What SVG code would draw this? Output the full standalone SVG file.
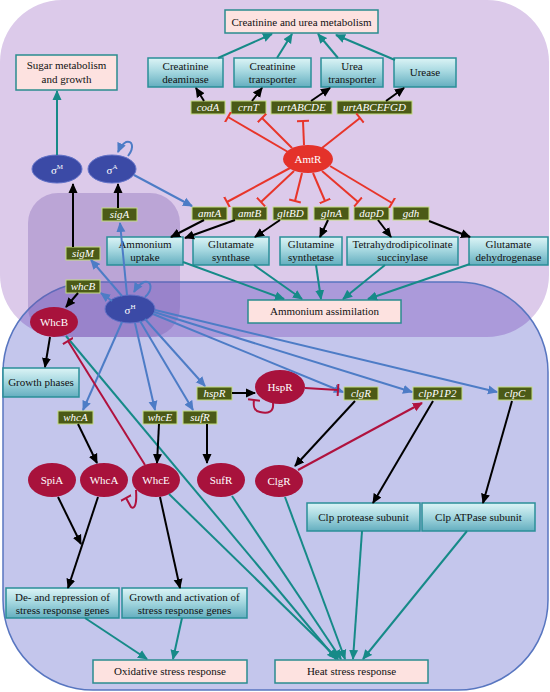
<svg xmlns="http://www.w3.org/2000/svg" width="550" height="692" viewBox="0 0 550 692">
<defs>
<linearGradient id="pg" x1="0" y1="0" x2="0" y2="1">
<stop offset="0" stop-color="#dcf4f6"/><stop offset="0.45" stop-color="#a8d9e1"/><stop offset="1" stop-color="#64aebf"/>
</linearGradient>
<clipPath id="lowClip"><rect x="3" y="282" width="545" height="408" rx="90"/></clipPath>
<marker id="ak" viewBox="0 0 10 10" refX="9" refY="5" markerWidth="10" markerHeight="10" markerUnits="userSpaceOnUse" orient="auto"><path d="M0,0.5 L10,5 L0,9.5 z" fill="#000"/></marker>
<marker id="at" viewBox="0 0 10 10" refX="9" refY="5" markerWidth="10" markerHeight="10" markerUnits="userSpaceOnUse" orient="auto"><path d="M0,0.5 L10,5 L0,9.5 z" fill="#168a88"/></marker>
<marker id="ab" viewBox="0 0 10 10" refX="9" refY="5" markerWidth="10" markerHeight="10" markerUnits="userSpaceOnUse" orient="auto"><path d="M0,0.5 L10,5 L0,9.5 z" fill="#4d7cc6"/></marker>
<marker id="ac" viewBox="0 0 10 10" refX="9" refY="5" markerWidth="10" markerHeight="10" markerUnits="userSpaceOnUse" orient="auto"><path d="M0,0.5 L10,5 L0,9.5 z" fill="#b0123e"/></marker>
<marker id="tr" viewBox="0 0 4 12" refX="2" refY="6" markerWidth="4" markerHeight="12" markerUnits="userSpaceOnUse" orient="auto"><path d="M2,0 V12" stroke="#e8352a" stroke-width="2"/></marker>
<marker id="tc" viewBox="0 0 4 12" refX="2" refY="6" markerWidth="4" markerHeight="12" markerUnits="userSpaceOnUse" orient="auto"><path d="M2,0 V12" stroke="#b0123e" stroke-width="2"/></marker>
</defs>
<style>
.pink{fill:#fde2e0;stroke:#2a8c8e;stroke-width:1.5}
.prot{fill:url(#pg);stroke:#2a8f98;stroke-width:1.5}
.gene{fill:#4b5a17;stroke:#c4dc80;stroke-width:1}
.t{font-family:"Liberation Serif","Times New Roman",serif;font-size:11px;text-anchor:middle;fill:#111}
.g{font-family:"Liberation Serif","Times New Roman",serif;font-size:11px;font-style:italic;text-anchor:middle;fill:#fff}
.w{font-family:"Liberation Serif","Times New Roman",serif;font-size:11px;text-anchor:middle;fill:#fff}
.sig{fill:#3b4aa6;stroke:#6272c8;stroke-width:1}
.cr{fill:#a8123c}
.amtr{fill:#e4322a}
.k{stroke:#000;stroke-width:2;fill:none;marker-end:url(#ak)}
.tl{stroke:#168a88;stroke-width:2;fill:none;marker-end:url(#at)}
.bl{stroke:#4d7cc6;stroke-width:2;fill:none;marker-end:url(#ab)}
.rd{stroke:#e8352a;stroke-width:2;fill:none;marker-end:url(#tr)}
.cm{stroke:#b0123e;stroke-width:2;fill:none;marker-end:url(#tc)}
.cma{stroke:#b0123e;stroke-width:2;fill:none;marker-end:url(#ac)}
</style>
<g id="background">
<rect x="0" y="0" width="550" height="692" fill="#ffffff"/>
<rect x="0" y="0" width="549" height="337" rx="62" fill="#dccaea"/>
<rect x="3" y="282" width="545" height="408" rx="90" fill="#c4c6ec"/>
<rect x="0" y="0" width="549" height="337" rx="62" fill="#ab9ada" clip-path="url(#lowClip)"/>
<rect x="3" y="282" width="545" height="408" rx="90" fill="none" stroke="#5876c0" stroke-width="1.5"/>
<rect x="28" y="193" width="152" height="144" rx="30" fill="#7050a8" opacity="0.3"/>
</g>
<g id="n-cum"><rect class="pink" x="225" y="10" width="153" height="23"/><text class="t" x="301.5" y="25.5">Creatinine and urea metabolism</text></g>
<g id="n-sugar"><rect class="pink" x="16" y="55" width="101" height="35"/><text class="t" x="66.5" y="69">Sugar metabolism</text><text class="t" x="66.5" y="83">and growth</text></g>
<g id="n-creatdeam"><rect class="prot" x="148" y="58" width="75" height="29"/><text class="t" x="185.5" y="70">Creatinine</text><text class="t" x="185.5" y="83">deaminase</text></g>
<g id="n-creattrans"><rect class="prot" x="234" y="58" width="77" height="29"/><text class="t" x="272.5" y="70">Creatinine</text><text class="t" x="272.5" y="83">transporter</text></g>
<g id="n-ureatrans"><rect class="prot" x="321" y="58" width="62" height="29"/><text class="t" x="352" y="70">Urea</text><text class="t" x="352" y="83">transporter</text></g>
<g id="n-urease"><rect class="prot" x="394" y="58" width="62" height="29"/><text class="t" x="425" y="76">Urease</text></g>
<g id="g-codA"><rect class="gene" x="191" y="101" width="34" height="13"/><text class="g" x="208" y="111">codA</text></g>
<g id="g-crnT"><rect class="gene" x="231" y="101" width="35" height="13"/><text class="g" x="248.5" y="111">crnT</text></g>
<g id="g-urtABCDE"><rect class="gene" x="271" y="101" width="61" height="13"/><text class="g" x="301.5" y="111">urtABCDE</text></g>
<g id="g-urtABCEFGD"><rect class="gene" x="337" y="101" width="75" height="13"/><text class="g" x="374.5" y="111">urtABCEFGD</text></g>
<g id="n-sigmaM"><ellipse class="sig" cx="57" cy="169" rx="25" ry="14"/><text class="w" x="57" y="174">σ<tspan font-size="7" dy="-5">M</tspan></text></g>
<g id="n-sigmaA"><ellipse class="sig" cx="112" cy="169" rx="24" ry="14"/><text class="w" x="112" y="174">σ<tspan font-size="7" dy="-5">A</tspan></text></g>
<g id="n-AmtR"><ellipse class="amtr" cx="308" cy="159" rx="25" ry="14"/><text class="w" x="308" y="163">AmtR</text></g>
<g id="g-amtA"><rect class="gene" x="192" y="207" width="35" height="13"/><text class="g" x="209.5" y="217">amtA</text></g>
<g id="g-amtB"><rect class="gene" x="232" y="207" width="35" height="13"/><text class="g" x="249.5" y="217">amtB</text></g>
<g id="g-gltBD"><rect class="gene" x="273" y="207" width="35" height="13"/><text class="g" x="290.5" y="217">gltBD</text></g>
<g id="g-glnA"><rect class="gene" x="314" y="207" width="35" height="13"/><text class="g" x="331.5" y="217">glnA</text></g>
<g id="g-dapD"><rect class="gene" x="354" y="207" width="35" height="13"/><text class="g" x="371.5" y="217">dapD</text></g>
<g id="g-gdh"><rect class="gene" x="393" y="207" width="36" height="13"/><text class="g" x="411" y="217">gdh</text></g>
<g id="g-sigA"><rect class="gene" x="102" y="208" width="35" height="13"/><text class="g" x="119.5" y="218">sigA</text></g>
<g id="g-sigM"><rect class="gene" x="66" y="247" width="34" height="13"/><text class="g" x="83" y="257">sigM</text></g>
<g id="g-whcB"><rect class="gene" x="66" y="280" width="34" height="13"/><text class="g" x="83" y="290">whcB</text></g>
<g id="n-ammup"><rect class="prot" x="107" y="237" width="76" height="28"/><text class="t" x="145" y="248">Ammonium</text><text class="t" x="145" y="261">uptake</text></g>
<g id="n-glusyn"><rect class="prot" x="193" y="237" width="76" height="28"/><text class="t" x="231" y="248">Glutamate</text><text class="t" x="231" y="261">synthase</text></g>
<g id="n-glnsyn"><rect class="prot" x="280" y="237" width="62" height="28"/><text class="t" x="311" y="248">Glutamine</text><text class="t" x="311" y="261">synthetase</text></g>
<g id="n-tetra"><rect class="prot" x="347" y="237" width="111" height="28"/><text class="t" x="402.5" y="248">Tetrahydrodipicolinate</text><text class="t" x="402.5" y="261">succinylase</text></g>
<g id="n-gludh"><rect class="prot" x="469" y="237" width="79" height="28"/><text class="t" x="508.5" y="248">Glutamate</text><text class="t" x="508.5" y="261">dehydrogenase</text></g>
<g id="n-assim"><rect class="pink" x="248" y="300" width="153" height="23"/><text class="t" x="324.5" y="315">Ammonium assimilation</text></g>
<g id="n-sigmaH"><ellipse class="sig" cx="130" cy="309" rx="25" ry="14"/><text class="w" x="130" y="314">σ<tspan font-size="7" dy="-5">H</tspan></text></g>
<g id="n-WhcB"><ellipse class="cr" cx="54" cy="322" rx="24" ry="15"/><text class="w" x="54" y="326">WhcB</text></g>
<g id="n-growth"><rect class="prot" x="3" y="368" width="76" height="29"/><text class="t" x="41" y="386">Growth phases</text></g>
<g id="g-hspR"><rect class="gene" x="197" y="387" width="35" height="13"/><text class="g" x="214.5" y="397">hspR</text></g>
<g id="n-HspR"><ellipse class="cr" cx="280" cy="387" rx="25" ry="17"/><text class="w" x="280" y="391">HspR</text></g>
<g id="g-clgR"><rect class="gene" x="344" y="387" width="34" height="13"/><text class="g" x="361" y="397">clgR</text></g>
<g id="g-clpP1P2"><rect class="gene" x="413" y="387" width="49" height="13"/><text class="g" x="437.5" y="397">clpP1P2</text></g>
<g id="g-clpC"><rect class="gene" x="498" y="387" width="34" height="13"/><text class="g" x="515" y="397">clpC</text></g>
<g id="g-whcA"><rect class="gene" x="58" y="411" width="35" height="13"/><text class="g" x="75.5" y="421">whcA</text></g>
<g id="g-whcE"><rect class="gene" x="143" y="411" width="34" height="13"/><text class="g" x="160" y="421">whcE</text></g>
<g id="g-sufR"><rect class="gene" x="183" y="411" width="34" height="13"/><text class="g" x="200" y="421">sufR</text></g>
<g id="n-SpiA"><ellipse class="cr" cx="52" cy="480" rx="24" ry="17"/><text class="w" x="52" y="484">SpiA</text></g>
<g id="n-WhcA"><ellipse class="cr" cx="104" cy="480" rx="24" ry="17"/><text class="w" x="104" y="484">WhcA</text></g>
<g id="n-WhcE"><ellipse class="cr" cx="156" cy="480" rx="24" ry="17"/><text class="w" x="156" y="484">WhcE</text></g>
<g id="n-SufR"><ellipse class="cr" cx="221" cy="480" rx="24" ry="17"/><text class="w" x="221" y="484">SufR</text></g>
<g id="n-ClgR"><ellipse class="cr" cx="279" cy="481" rx="24" ry="16"/><text class="w" x="279" y="485">ClgR</text></g>
<g id="n-clpprot"><rect class="prot" x="307" y="503" width="113" height="28"/><text class="t" x="363.5" y="521">Clp protease subunit</text></g>
<g id="n-clpatp"><rect class="prot" x="422" y="503" width="113" height="28"/><text class="t" x="478.5" y="521">Clp ATPase subunit</text></g>
<g id="n-derep"><rect class="prot" x="6" y="588" width="113" height="30"/><text class="t" x="62.5" y="601">De- and repression of</text><text class="t" x="62.5" y="614">stress response genes</text></g>
<g id="n-growact"><rect class="prot" x="122" y="588" width="125" height="30"/><text class="t" x="184.5" y="601">Growth and activation of</text><text class="t" x="184.5" y="614">stress response genes</text></g>
<g id="n-oxid"><rect class="pink" x="93" y="660" width="154" height="23"/><text class="t" x="170" y="675">Oxidative stress response</text></g>
<g id="n-heat"><rect class="pink" x="275" y="660" width="153" height="23"/><text class="t" x="351.5" y="675">Heat stress response</text></g>
<g id="connectors">
<path class="tl" d="M57,155 L57,91"/>
<path class="tl" d="M218,58 L272,34"/>
<path class="tl" d="M277,58 L292,34"/>
<path class="tl" d="M338,58 L318,34"/>
<path class="tl" d="M395,60 L336,35"/>
<path class="tl" d="M183,262 L284,299"/>
<path class="tl" d="M254,265 L302,299"/>
<path class="tl" d="M316,265 L321,299"/>
<path class="tl" d="M385,265 L343,299"/>
<path class="tl" d="M470,264 L368,299"/>
<path class="tl" d="M66,336 L336,659"/>
<path class="tl" d="M169,494 L338,659"/>
<path class="tl" d="M232,496 L341,659"/>
<path class="tl" d="M285,497 L345,659"/>
<path class="tl" d="M362,531 L353,659"/>
<path class="tl" d="M467,531 L363,659"/>
<path class="tl" d="M85,618 L147,659"/>
<path class="tl" d="M182,618 L173,659"/>
<path class="k" d="M204,101 L196,88"/>
<path class="k" d="M252,101 L262,88"/>
<path class="k" d="M311,101 L330,88"/>
<path class="k" d="M386,101 L404,88"/>
<path class="k" d="M73,247 L73,184"/>
<path class="k" d="M118,208 L118,184"/>
<path class="k" d="M204,220 L171,237"/>
<path class="k" d="M235,220 L185,238"/>
<path class="k" d="M280,220 L255,237"/>
<path class="k" d="M328,220 L320,237"/>
<path class="k" d="M378,220 L391,237"/>
<path class="k" d="M429,221 L470,237"/>
<path class="k" d="M78,293 L66,307"/>
<path class="k" d="M50,337 L45,367"/>
<path class="k" d="M232,393 L255,393"/>
<path class="k" d="M78,424 L97,463"/>
<path class="k" d="M159,424 L157,463"/>
<path class="k" d="M207,424 L207,463"/>
<path class="k" d="M355,401 L295,466"/>
<path class="k" d="M433,401 L373,503"/>
<path class="k" d="M512,401 L483,503"/>
<path class="k" d="M58,497 L81,544"/>
<path class="k" d="M98,497 L68,588"/>
<path class="k" d="M160,497 L180,588"/>
<path class="bl" d="M134,175 L192,206"/>
<path class="bl" d="M128,156 C135,147 132,140 126,142 Q121,145 118,152"/>
<path class="bl" d="M145,297 C153,290 152,280 144,282 Q138,285 134,292"/>
<path class="bl" d="M122,296 L91,260"/>
<path class="bl" d="M127,295 L120,223"/>
<path class="bl" d="M112,301 L101,293"/>
<path class="bl" d="M122,322 L83,410"/>
<path class="bl" d="M135,323 L155,410"/>
<path class="bl" d="M140,321 L193,410"/>
<path class="bl" d="M145,319 L205,386"/>
<path class="bl" d="M153,314 L343,392"/>
<path class="bl" d="M154,312 L412,392"/>
<path class="bl" d="M155,310 L497,392"/>
<path class="rd" d="M288,152 L228,117"/>
<path class="rd" d="M292,148 L262,118"/>
<path class="rd" d="M304,145 L303,121"/>
<path class="rd" d="M322,148 L360,118"/>
<path class="rd" d="M290,168 L227,202"/>
<path class="rd" d="M294,171 L261,202"/>
<path class="rd" d="M302,173 L295,201"/>
<path class="rd" d="M313,173 L325,201"/>
<path class="rd" d="M322,171 L358,202"/>
<path class="rd" d="M330,166 L392,203"/>
<path class="cm" d="M305,388 L338,390"/>
<path class="cm" d="M273,403 C274,412 268,414 260,412 C254,411 253,407 254,400"/>
<path class="cm" d="M145,465 L68,341"/>
<path class="cm" d="M136,490 C137,503 135,510 131,507 L126,498"/>
<path class="cma" d="M298,470 L422,403"/>
</g>
</svg>
